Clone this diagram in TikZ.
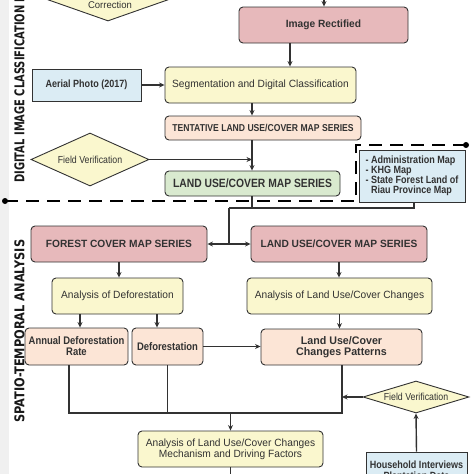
\documentclass[tikz,border=0pt]{standalone}
\usepackage{fontspec}
\setmainfont[FakeStretch=0.97]{Liberation Sans}
\newfontfamily\nsans[FakeStretch=0.86]{Liberation Sans}
\newfontfamily\heavyfont{DejaVu Sans}
\usetikzlibrary{arrows.meta,shapes.geometric}
\definecolor{cpink}{RGB}{231,185,187}
\definecolor{cyel}{RGB}{250,247,206}
\definecolor{cpeach}{RGB}{252,229,214}
\definecolor{cgreen}{RGB}{217,234,207}
\definecolor{cblue}{RGB}{219,236,244}
\definecolor{cline}{RGB}{50,50,50}
\definecolor{ctext}{RGB}{50,50,50}
\begin{document}
\begin{tikzpicture}[x=1pt,y=-1pt,
  base/.style={draw=cline,line width=0.9pt,inner sep=0pt,align=center,text=ctext},
  rbox/.style={base,rounded corners=4pt},
  sbox/.style={base},
  dia/.style={base,diamond,fill=cyel},
  freg/.style={font=\fontsize{10.5}{11}\selectfont},
  fbold/.style={font=\fontsize{10.5}{11}\selectfont\bfseries},
  fnb/.style={font=\nsans\fontsize{10.5}{11}\selectfont\bfseries},
  conn/.style={draw=cline,line width=1.4pt},
  arr/.style={conn,-{Stealth[length=5.5pt,width=5pt]}},
  divider/.style={draw=black,line width=2.8pt,dash pattern=on 13pt off 8pt},
  sidelab/.style={rotate=90,anchor=west,inner sep=0pt,text=black!90,font=\heavyfont\bfseries}]
\useasboundingbox (0,0) rectangle (474,474);
\clip (0,0) rectangle (474,474);
\fill[black!6] (0,0) rectangle (9,474);

% side labels
\node[sidelab] (lab1) at (19.5,183) {\resizebox{188pt}{10pt}{DIGITAL IMAGE CLASSIFICATION P}};
\node[sidelab] (lab2) at (19.5,423) {\resizebox{183pt}{10pt}{SPATIO-TEMPORAL ANALYSIS}};

% guide coordinates
\coordinate (g290) at (290,0);
\coordinate (g252) at (252,0);
\coordinate (g80) at (80,0);
\coordinate (g157) at (157,0);
\coordinate (rt) at (324,-5);
\coordinate (jL) at (229,208);
\coordinate (jR) at (414,208);
\coordinate (jS) at (229,244);
\coordinate (bl) at (69,413);
\coordinate (br) at (342,413);
\coordinate (mb) at (230.5,480);
\coordinate (d1) at (5,201);
\coordinate (d2) at (356,201);
\coordinate (d3) at (356,145);
\coordinate (d4) at (466,145);

% top diamond
\node[dia,aspect=2.84,minimum width=176pt,minimum height=62pt] (corr) at (108,-10) {};
\node[freg,text=ctext,inner sep=0pt,font=\fontsize{9.8}{10}\selectfont] (corrtext) at (110,5) {Correction};

% nodes
\node[rbox,fill=cpink,fbold,minimum width=169pt,minimum height=36pt] (rect) at (323.5,25) {Image Rectified};
\node[rbox,fill=cyel,freg,minimum width=191pt,minimum height=36pt] (seg) at (260.5,85) {Segmentation and Digital Classification};
\node[sbox,fill=cblue,fnb,minimum width=109pt,minimum height=32pt] (aerial) at (86.5,85) {Aerial Photo (2017)};
\node[rbox,fill=cpeach,fnb,font=\nsans\fontsize{10}{11}\selectfont\bfseries,minimum width=196pt,minimum height=24pt] (tent) at (263,128) {TENTATIVE LAND USE/COVER MAP SERIES};
\node[dia,aspect=2.2,minimum width=118pt,minimum height=53pt,font=\nsans\fontsize{10.2}{11}\selectfont] (fv1) at (90,159.5) {Field Verification};
\node[rbox,fill=cgreen,font=\nsans\fontsize{12}{12}\selectfont\bfseries,minimum width=175pt,minimum height=25pt] (lucg) at (252.5,183.5) {LAND USE/COVER MAP SERIES};
\node[sbox,fill=cblue,align=left,font=\nsans\fontsize{10.5}{10}\selectfont\bfseries,minimum width=106pt,minimum height=52pt] (info) at (412,176) {- Administration Map\\- KHG Map\\- State Forest Land of\\\phantom{- }Riau Province Map};
\node[rbox,fill=cpink,fbold,minimum width=176pt,minimum height=36pt] (forest) at (119,244) {FOREST COVER MAP SERIES};
\node[rbox,fill=cpink,fbold,minimum width=176pt,minimum height=36pt] (luc2) at (339,244) {LAND USE/COVER MAP SERIES};
\node[rbox,fill=cyel,freg,minimum width=131pt,minimum height=36pt] (adef) at (117.5,296) {Analysis of Deforestation};
\node[rbox,fill=cyel,freg,minimum width=185pt,minimum height=36pt] (aluc) at (339.5,296) {Analysis of Land Use/Cover Changes};
\node[rbox,fill=cpeach,font=\nsans\fontsize{11}{11}\selectfont\bfseries,minimum width=103pt,minimum height=37pt] (rate) at (76.5,346.5) {Annual Deforestation\\Rate};
\node[rbox,fill=cpeach,font=\nsans\fontsize{11}{11}\selectfont\bfseries,minimum width=71pt,minimum height=37pt] (defo) at (167.5,346.5) {Deforestation};
\node[rbox,fill=cpeach,font=\fontsize{11}{11}\selectfont\bfseries,minimum width=161pt,minimum height=36pt] (pat) at (341.5,347) {Land Use/Cover\\Changes Patterns};
\node[dia,aspect=3.3,minimum width=106pt,minimum height=32pt,font=\nsans\fontsize{10.2}{11}\selectfont] (fv2) at (416,397) {Field Verification};
\node[rbox,fill=cyel,freg,minimum width=185pt,minimum height=36pt] (mech) at (230.5,449) {Analysis of Land Use/Cover Changes\\Mechanism and Driving Factors};
\node[sbox,fill=cblue,fnb,minimum width=101pt,minimum height=36pt] (house) at (416.5,470) {Household Interviews\\Plantation Data};

% divider
\draw[divider] (d1) -- (d2) -- (d3) -- (d4);
\fill[black] (d1) circle (3pt);
\fill[black] (d4) circle (3pt);

% connectors
\draw[arr] (rt) -- (rect.north -| rt);
\draw[arr] (rect.south -| g290) -- (seg.north -| g290);
\draw[arr] (aerial.east) -- (seg.west);
\draw[arr] (seg.south -| g252) -- (tent.north -| g252);
\draw[arr] (tent.south -| g252) -- (lucg.north -| g252);
\draw[arr] (fv1.east) -- (fv1.east -| g252);
\draw[conn] (lucg.south -| g252) -- (g252 |- jL);
\draw[conn] (jL) -- (jR) -- (info.south -| jR);
\draw[conn] (jL) -- (jS);
\draw[arr] (jS) -- (forest.east);
\draw[arr] (jS) -- (luc2.west);
\draw[arr] (forest.south) -- (forest.south |- adef.north);
\draw[arr] (luc2.south) -- (luc2.south |- aluc.north);
\draw[arr] (adef.south -| g80) -- (rate.north -| g80);
\draw[arr] (adef.south -| g157) -- (defo.north -| g157);
\draw[arr] (aluc.south) -- (aluc.south |- pat.north);
\draw[arr] (defo.east) -- (defo.east -| pat.west);
\draw[conn] (rate.south -| bl) -- (bl) -- (br) -- (pat.south -| br);
\draw[conn] (defo.south) -- (defo.south |- bl);
\draw[arr] (mech.north |- bl) -- (mech.north);
\draw[arr] (fv2.west) -- (fv2.west -| br);
\draw[arr] (house.north) -- (fv2.south);
\draw[conn] (mech.south) -- (mb);
\end{tikzpicture}
\end{document}
